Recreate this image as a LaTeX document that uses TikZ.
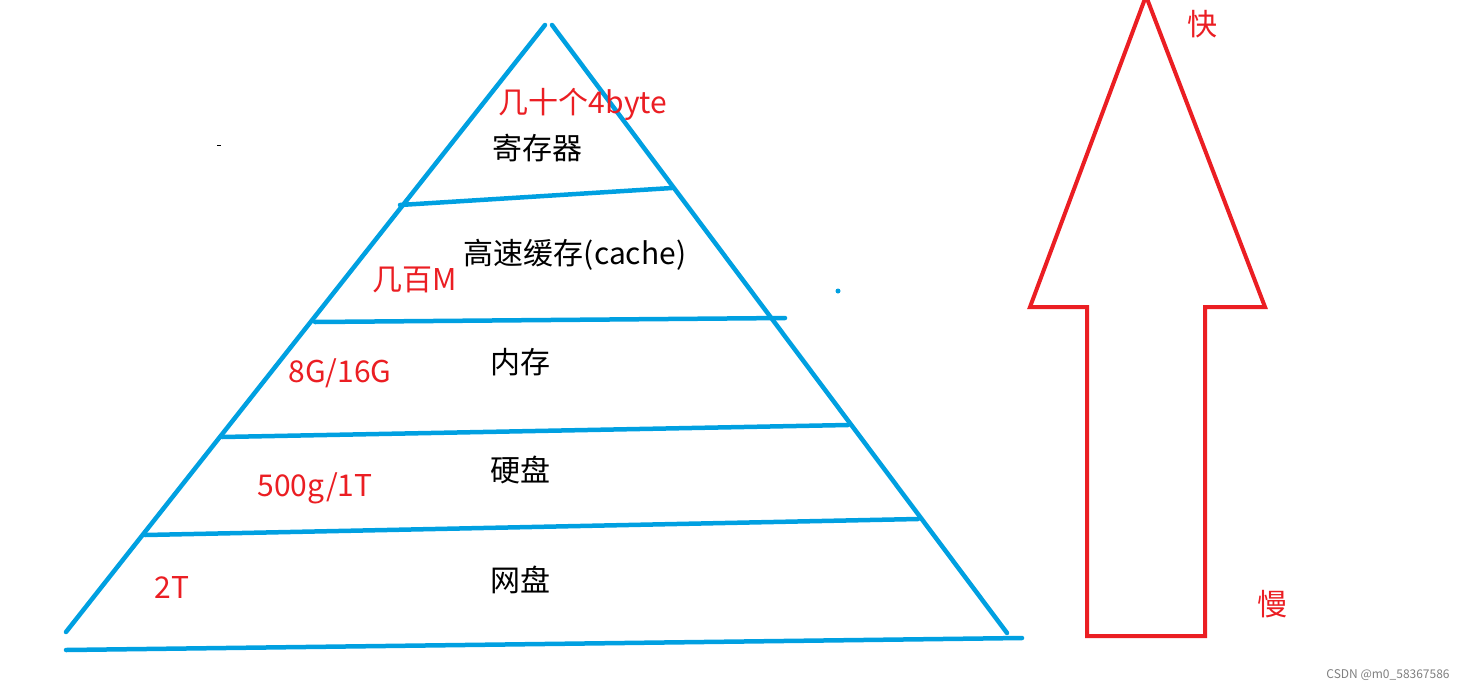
\documentclass[tikz,border=0pt]{standalone}
\usepackage{fontspec}
\setmainfont{Noto Sans CJK SC}
\begin{document}
\begin{tikzpicture}[x=1pt,y=-1pt]
\definecolor{pb}{RGB}{0,160,225}
\definecolor{pr}{RGB}{235,30,35}
\tikzset{blue line/.style={draw=pb, line width=4.5pt, line cap=round},
  lbl/.style={font=\fontsize{30}{34}\selectfont, inner sep=0pt},
  red lbl/.style={lbl, text=pr}}
\useasboundingbox[fill=white] (0,0) rectangle (1477,691);
\coordinate (top1) at (545,25); \coordinate (bl) at (66,632);
\coordinate (top2) at (552,25); \coordinate (br) at (1007,633);
\draw[blue line] (top1) -- (bl);
\draw[blue line] (top2) -- (br);
\coordinate (a1) at (400,205); \coordinate (a2) at (672,188);
\coordinate (b1) at (315,322); \coordinate (b2) at (785,318);
\coordinate (c1) at (222,437); \coordinate (c2) at (848,425);
\coordinate (d1) at (145,535); \coordinate (d2) at (918,519);
\coordinate (e1) at (66,650);  \coordinate (e2) at (1022,638);
\draw[blue line] (a1) -- (a2);
\draw[blue line] (b1) -- (b2);
\draw[blue line] (c1) -- (c2);
\draw[blue line] (d1) -- (d2);
\draw[blue line] (e1) -- (e2);
\fill[pb] (838,291) circle (2.5);
\draw[line width=1pt] (217,145) -- (221,145);
\draw[draw=pr, line width=4pt, line join=miter]
  (1030,307) -- (1087,307) -- (1087,636) -- (1205,636) -- (1205,307) -- (1265,307) -- (1146,-4) -- cycle;
\node[red lbl] (n1) at (583,104) {几十个4byte};
\node[lbl] (n2) at (537,148) {寄存器};
\node[lbl] (n3) at (575,255) {高速缓存(cache)};
\node[red lbl] (n4) at (415,280) {几百M};
\node[lbl] (n5) at (520,362) {内存};
\node[red lbl] (n6) at (340,373) {8G/16G};
\node[lbl] (n7) at (520,470) {硬盘};
\node[red lbl] (n8) at (315,488) {500g/1T};
\node[lbl] (n9) at (520,580) {网盘};
\node[red lbl] (n10) at (172,587) {2T};
\node[red lbl] (n11) at (1202,24) {快};
\node[red lbl] (n12) at (1272,604) {慢};
\node[font=\fontsize{12}{14}\selectfont, text=gray, inner sep=0pt] (n13) at (1388,675) {CSDN @m0\_58367586};
\end{tikzpicture}
\end{document}
